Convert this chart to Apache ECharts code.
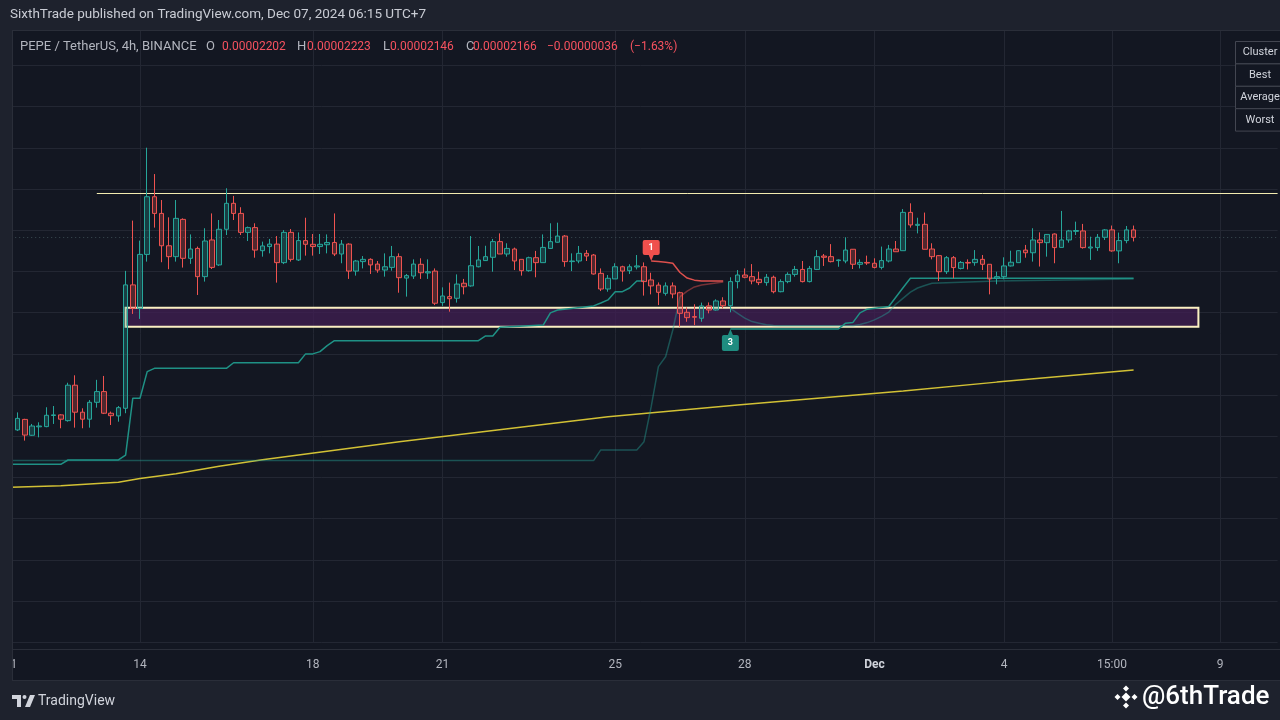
<!DOCTYPE html>
<html><head><meta charset="utf-8">
<script src="https://cdn.jsdelivr.net/npm/echarts@6/dist/echarts.min.js"></script>
<style>html,body{margin:0;padding:0;background:#1e222d;overflow:hidden}#c{width:1280px;height:720px}</style>
</head><body><div id="c"></div>
<script>
// ---------- DATA (prices in units of 1e-8 USDT) ----------
const PRICE_UNIT = 1e-8;
const firstBar = '2024-11-10 23:00';     // first slot on the axis (UTC+7 wall time)
const barCount = 178;
const tickTimes  = ['2024-11-11 03:00','2024-11-14 03:00','2024-11-18 03:00','2024-11-21 03:00','2024-11-25 03:00','2024-11-28 03:00','2024-12-01 03:00','2024-12-04 03:00','2024-12-06 15:00','2024-12-09 03:00'];
const tickLabels = ['11','14','18','21','25','28','Dec','4','15:00','9'];
const firstCandle = '2024-11-11 07:00';

const O = [1231,1282,1205,1246,1247,1301,1304,1276,1448,1317,1283,1365,1417,1312,1299,1336,1935,1821,2083,2363,2282,2125,2072,2253,2064,2112,1975,2153,2032,2205,2331,2282,2190,2213,
2101,2121,2133,2043,2190,2056,2150,2132,2121,2130,2141,2085,2133,2002,2048,2059,2036,2007,2020,2072,1968,1978,
2035,1993,2002,1849,1878,1870,1943,1930,2023,2053,2069,2145,2085,2109,2059,2004,2067,2043,2112,2142,2172,
2048,2051,2088,2080,1991,1915,1964,2023,2004,2022,2023,1959,1934,1894,1930,1897,1802,1781,1773,1833,1813,
1857,1834,1951,1983,1975,1962,1946,1972,1902,1951,1986,2010,1951,2010,2075,2072,2053,2051,2108,2035,2044,
2040,2020,2051,2109,2101,2287,2224,2229,2109,2077,1999,2067,2015,2044,2043,2059,2035,
1967,1975,2027,2043,2104,2091,2153,2140,2182,2117,2153,2195,2197,2114,2116,2166,2202,2100,2150,2202];
const H = [1316,1285,1260,1268,1341,1347,1307,1460,1496,1336,1376,1474,1493,1320,1347,2003,2247,2150,2601,2473,2347,2263,2347,2258,2180,2121,2210,2282,2250,2404,2367,2312,2218,2234,
2145,2158,2172,2201,2206,2190,2261,2182,2182,2180,2282,2153,2137,2056,2075,2064,2051,2088,2124,2088,1988,2059,
2064,2059,2015,1923,1946,1986,1964,2172,2124,2125,2158,2185,2137,2116,2059,2072,2100,2180,2234,2237,2177,
2088,2124,2104,2085,2015,1983,2040,2028,2035,2080,2044,1994,1947,1947,1947,1902,1826,1841,1849,1850,1865,
1875,1972,2007,2015,2036,1999,1988,1980,1962,1996,2027,2051,2027,2104,2085,2133,2059,2166,2109,2059,2077,
2064,2121,2129,2148,2303,2331,2261,2286,2137,2080,2075,2075,2051,2059,2104,2080,2035,
1999,2069,2101,2104,2129,2210,2190,2182,2185,2294,2202,2242,2231,2169,2182,2206,2223,2189,2221,2223];
const L = [1226,1179,1202,1195,1244,1260,1239,1271,1242,1239,1242,1339,1308,1255,1271,1312,1794,1770,2048,2213,2045,2011,2048,2019,2037,1886,1951,2012,2027,2177,2250,2177,2148,2067,
2072,2088,1946,2036,2048,2051,2077,2077,2085,2088,2075,2040,1964,1980,2015,1988,1994,1975,2004,1897,1878,1964,
1964,1964,1837,1833,1805,1849,1889,1926,2020,2051,1999,2085,2072,2007,1980,1999,1972,2043,2109,2140,2023,
2002,2040,2051,1985,1905,1902,1964,1951,1988,2010,1883,1889,1837,1883,1870,1732,1756,1740,1756,1797,1810,
1821,1802,1918,1967,1938,1934,1931,1894,1899,1943,1975,1947,1947,2007,2027,2044,2023,2040,2012,2015,2032,
2015,2010,2044,2096,2101,2213,2185,2108,2059,1954,1988,1967,2010,2010,2028,2007,1889,
1938,1962,2024,2043,2067,2048,2024,2072,2040,2116,2140,2177,2111,2056,2100,2153,2096,2040,2137,2146];
const C = [1287,1206,1250,1250,1302,1304,1283,1448,1317,1283,1365,1417,1312,1300,1339,1935,1821,2083,2363,2282,2125,2072,2258,2064,2109,1975,2148,2020,2205,2331,2282,2190,2213,2104,
2124,2133,2043,2190,2059,2150,2132,2121,2132,2141,2085,2133,2002,2051,2059,2032,2007,2023,2072,1970,1980,2036,
1994,1999,1846,1881,1868,1939,1926,2028,2056,2072,2145,2085,2112,2051,2004,2067,2043,2117,2145,2172,2048,
2051,2088,2075,1988,1915,1967,2023,2002,2023,2027,1951,1930,1899,1930,1891,1797,1776,1778,1833,1813,1857,
1834,1951,1983,1972,1954,1946,1972,1902,1951,1986,2010,1951,2015,2072,2069,2048,2056,2104,2035,2044,2041,
2020,2053,2109,2096,2287,2226,2229,2108,2072,1999,2067,2019,2044,2041,2059,2035,1964,
1975,2027,2045,2101,2091,2153,2140,2180,2116,2153,2197,2199,2116,2119,2166,2202,2100,2150,2202,2166];

// [bar index, price] readings of the indicator lines
const ma = [[0,952],[8,960],[16,977],[19,995],[24,1018],[30,1055],[36,1086],[55,1174],[84,1295],[102,1352],[125,1420],[138,1463],[157,1522]];
const stopUp1 = [[0,1064],[8,1064],[9,1085],[16,1085],[17,1109],[18,1385],[19,1385],[20,1514],[21,1530],[31,1530],[32,1557],[41,1557],[42,1600],[43,1600],[44,1611],[45,1640],[46,1664],[66,1664],[67,1687],[68,1687],[69,1729],[75,1740],[76,1799],[77,1813],[82,1833],[83,1847],[84,1862],[85,1902],[86,1902],[87,1920],[88,1954],[89,1954]];
const stopDown = [[90,2051],[91,2048],[92,2045],[93,2040],[94,1995],[95,1968],[96,1958],[97,1954],[100,1954]];
const stopUp2 = [[101,1721],[116,1721],[117,1749],[118,1752],[119,1799],[120,1817],[123,1830],[124,1876],[125,1922],[126,1967],[157,1967]];
const amaUp1 = [[0,1082],[82,1082],[83,1134],[88,1134],[89,1174],[90,1344],[91,1538],[92,1586],[93,1716],[94,1878]];
const amaDown = [[94,1878],[95,1905],[96,1925],[97,1934],[98,1939],[99,1944],[100,1949]];
const amaUp2 = [[101,1821],[102,1797],[103,1774],[104,1757],[105,1749],[106,1741],[107,1738],[108,1737],[118,1737],[119,1743],[120,1752],[121,1765],[122,1782],[123,1803],[124,1842],[125,1871],[126,1900],[127,1920],[128,1932],[129,1943],[133,1948],[138,1954],[157,1963]];
const resistance = {fromBar: 13, toBar: 177, price: 2380};
const zone = {fromBar: 17, toBar: 166, top: 1824, bottom: 1732};
const signals = [{bar: 90, text: '1', dir: 'down'}, {bar: 101, text: '3', dir: 'up'}];
const tableRows = ['Cluster','Best','Average','Worst'];
const headerText = 'SixthTrade published on TradingView.com, Dec 07, 2024 06:15 UTC+7';
const symbolText = 'PEPE / TetherUS, 4h, BINANCE';
const footerBrand = 'TradingView';
const footerHandle = '@6thTrade';

// ---------- BUILD ----------
function pad(n){return (n<10?'0':'')+n;}
const p0 = firstBar.split(/[- :]/).map(Number);
const t0 = Date.UTC(p0[0], p0[1]-1, p0[2], p0[3], p0[4]);
const cats = [];
for (let j=0;j<barCount;j++){const d=new Date(t0+j*4*3600e3);cats.push(d.getUTCFullYear()+'-'+pad(d.getUTCMonth()+1)+'-'+pad(d.getUTCDate())+' '+pad(d.getUTCHours())+':'+pad(d.getUTCMinutes()));}
const tickMap = {}; tickTimes.forEach((t,i)=>tickMap[t]=tickLabels[i]);
const tickIdx = new Set(tickTimes.map(t=>cats.indexOf(t)));
const c0 = cats.indexOf(firstCandle);
const candles = cats.map((c,j)=>{const k=j-c0; return (k>=0&&k<O.length)?[O[k],C[k],L[k],H[k]]:'-';});
const n = C.length;
const fmt = v => (v*PRICE_UNIT).toFixed(8);
const chg = C[n-1]-C[n-2];
const chgPct = chg/C[n-2]*100;
const minus = s => s.replace('-', '\u2212');

const UP='#26a69a', DN='#ef5350', GRIDC='#232733', FONT='Roboto, "Noto Sans", sans-serif';
const RED='#f7525f', GRAY='#b2b5be';
const pathDown='path://M2,0 H15 Q17,0 17,2 V13 Q17,15 15,15 H11 L8.5,21 L6,15 H2 Q0,15 0,13 V2 Q0,0 2,0 Z';
const pathUp='path://M8.5,0 L11,6 H15 Q17,6 17,8 V20 Q17,22 15,22 H2 Q0,22 0,20 V8 Q0,6 2,6 H6 Z';
function stopAt(arr, bar){const p=arr.find(a=>a[0]===bar);return p?p[1]:null;}
function signalPoint(s, arr){
  const down = s.dir==='down';
  return {coord:[s.bar, stopAt(arr, s.bar)], symbol: down?pathDown:pathUp, symbolSize:[17,down?21:22],
    symbolOffset:[0, down?'-50%':'50%'], itemStyle:{color: down?'#f0504d':'#1f8c80'},
    label:{show:true, formatter:s.text, position:'inside', offset:[0, down?-3:3], color:'#fff', fontSize:9, fontWeight:'bold', fontFamily:FONT}};
}
function lineSeries(data, color, width, z, extra){
  return Object.assign({type:'line', data, symbol:'none', silent:true, z, lineStyle:{color, width}, itemStyle:{color}}, extra||{});
}
function txt(x, y, text, fill, size, extra){
  return {type:'text', z:102, silent:true, x, y, style:Object.assign({text, fill, font:size+'px '+FONT, verticalAlign:'middle'}, extra||{})};
}

const option = {
  backgroundColor:'#1e222d',
  animation:false,
  grid:{left:3.2, right:2.4, top:24.3, bottom:77.7},
  xAxis:{type:'category', data:cats, boundaryGap:false,
    axisLine:{show:false}, axisTick:{show:false},
    axisLabel:{interval:(i)=>tickIdx.has(i), showMinLabel:true, showMaxLabel:true,
      formatter:(v)=>{const t=tickMap[v]||''; return t==='Dec'?'{b|Dec}':t;},
      color:GRAY, fontSize:12, fontFamily:FONT, margin:17,
      rich:{b:{fontWeight:'bold', color:'#d1d4dc', fontSize:12, fontFamily:FONT}}},
    splitLine:{show:true, interval:(i)=>tickIdx.has(i), lineStyle:{color:GRIDC, width:1}}},
  yAxis:{type:'value', min:200, max:3200, interval:200, position:'right',
    axisLabel:{show:false}, axisLine:{show:false}, axisTick:{show:false},
    splitLine:{show:true, lineStyle:{color:GRIDC, width:1}}},
  series:[
    lineSeries(ma, '#d2c135', 1.5, 2),
    lineSeries(amaUp1, 'rgba(38,166,154,0.42)', 1.5, 2),
    lineSeries(amaDown, 'rgba(239,83,80,0.45)', 1.5, 2),
    lineSeries(amaUp2, 'rgba(38,166,154,0.42)', 1.5, 2),
    lineSeries(stopUp1, '#1f9185', 1.5, 2),
    lineSeries(stopDown, '#dd504d', 1.5, 2, {markPoint:{silent:true, data:[signalPoint(signals[0], stopDown)]}}),
    lineSeries(stopUp2, '#1f9185', 1.5, 2, {markPoint:{silent:true, data:[signalPoint(signals[1], stopUp2)]}}),
    {type:'line', data:[], z:3, silent:true, symbol:'none',
      markArea:{silent:true, itemStyle:{color:'rgba(66,30,84,0.72)', borderColor:'#fbf0c2', borderWidth:2},
        data:[[{coord:[zone.fromBar, zone.top]},{coord:[zone.toBar, zone.bottom]}]]}},
    {type:'candlestick', data:candles, z:5, barWidth:5, silent:true,
      itemStyle:{color:'rgba(38,166,154,0.28)', color0:'rgba(239,83,80,0.28)', borderColor:UP, borderColor0:DN, borderWidth:1},
      markLine:{silent:true, symbol:['none','none'], label:{show:false},
        data:[
          {yAxis:C[n-1], lineStyle:{color:'#3a4b52', type:[1,3], width:1}},
          [{coord:[resistance.fromBar, resistance.price], lineStyle:{color:'#f3ecb0', width:1, type:'solid'}},{coord:[resistance.toBar, resistance.price]}]
        ]}}
  ],
  graphic:[
    {type:'rect', z:-10, silent:true, shape:{x:12,y:30,width:1268,height:650}, style:{fill:'#131722'}},
    {type:'rect', z:100, silent:true, shape:{x:0,y:0,width:1280,height:30}, style:{fill:'#1e222d'}},
    {type:'rect', z:100, silent:true, shape:{x:0,y:0,width:12,height:720}, style:{fill:'#1e222d'}},
    {type:'rect', z:100, silent:true, shape:{x:0,y:680,width:1280,height:40}, style:{fill:'#1e222d'}},
    {type:'line', z:101, silent:true, shape:{x1:12,y1:30.5,x2:1280,y2:30.5}, style:{stroke:'#2a2e39',lineWidth:1}},
    {type:'line', z:101, silent:true, shape:{x1:12,y1:649.5,x2:1280,y2:649.5}, style:{stroke:'#2a2e39',lineWidth:1}},
    {type:'line', z:101, silent:true, shape:{x1:12,y1:680.5,x2:1280,y2:680.5}, style:{stroke:'#2a2e39',lineWidth:1}},
    {type:'line', z:101, silent:true, shape:{x1:12.5,y1:30,x2:12.5,y2:680}, style:{stroke:'#2a2e39',lineWidth:1}},
    txt(10, 15, headerText, '#c9ccd4', 13.5),
    txt(20, 47, symbolText, GRAY, 13),
    txt(206, 47, 'O', GRAY, 13), txt(222, 47, fmt(O[n-1]), RED, 12),
    txt(297, 47, 'H', GRAY, 13), txt(307, 47, fmt(H[n-1]), RED, 12),
    txt(383, 47, 'L', GRAY, 13), txt(390, 47, fmt(L[n-1]), RED, 12),
    txt(466, 47, 'C', GRAY, 13), txt(473, 47, fmt(C[n-1]), RED, 12),
    txt(547, 47, minus(fmt(chg)), RED, 12),
    txt(630, 47, '('+minus(chgPct.toFixed(2))+'%)', RED, 12),
    // table
    ...tableRows.flatMap((t,i)=>[
      {type:'rect', z:102, silent:true, shape:{x:1235.5,y:41.5+i*22.4,width:60,height:22.4}, style:{fill:'#131722',stroke:'#434651',lineWidth:1}},
      {type:'text', z:103, silent:true, x:1260, y:52.7+i*22.4, style:{text:t, fill:'#d1d4dc', font:'11px '+FONT, align:'center', verticalAlign:'middle'}}
    ]),
    // footer
    {type:'polygon', z:102, silent:true, shape:{points:[[12,695],[21,695],[21,707],[17,707],[17,699],[12,699]]}, style:{fill:'#d1d4dc'}},
    {type:'circle', z:102, silent:true, shape:{cx:24.5,cy:697,r:2}, style:{fill:'#d1d4dc'}},
    {type:'polygon', z:102, silent:true, shape:{points:[[30,695],[35,695],[30,707],[25,707]]}, style:{fill:'#d1d4dc'}},
    txt(38, 701, footerBrand, '#d1d4dc', 14),
    ...[[1126,697,4.5],[1126,688.5,3],[1126,705.5,3],[1117.5,697,3],[1134.5,697,3]].map(d=>({type:'polygon', z:102, silent:true,
      shape:{points:[[d[0],d[1]-d[2]],[d[0]+d[2],d[1]],[d[0],d[1]+d[2]],[d[0]-d[2],d[1]]]}, style:{fill:'#ffffff'}})),
    {type:'text', z:102, silent:true, x:1142, y:697, style:{text:footerHandle, fill:'#ffffff', font:'500 26px '+FONT, verticalAlign:'middle'}}
  ]
};
const chart = echarts.init(document.getElementById('c'), null, {width:1280, height:720});
chart.setOption(option);
</script></body></html>
